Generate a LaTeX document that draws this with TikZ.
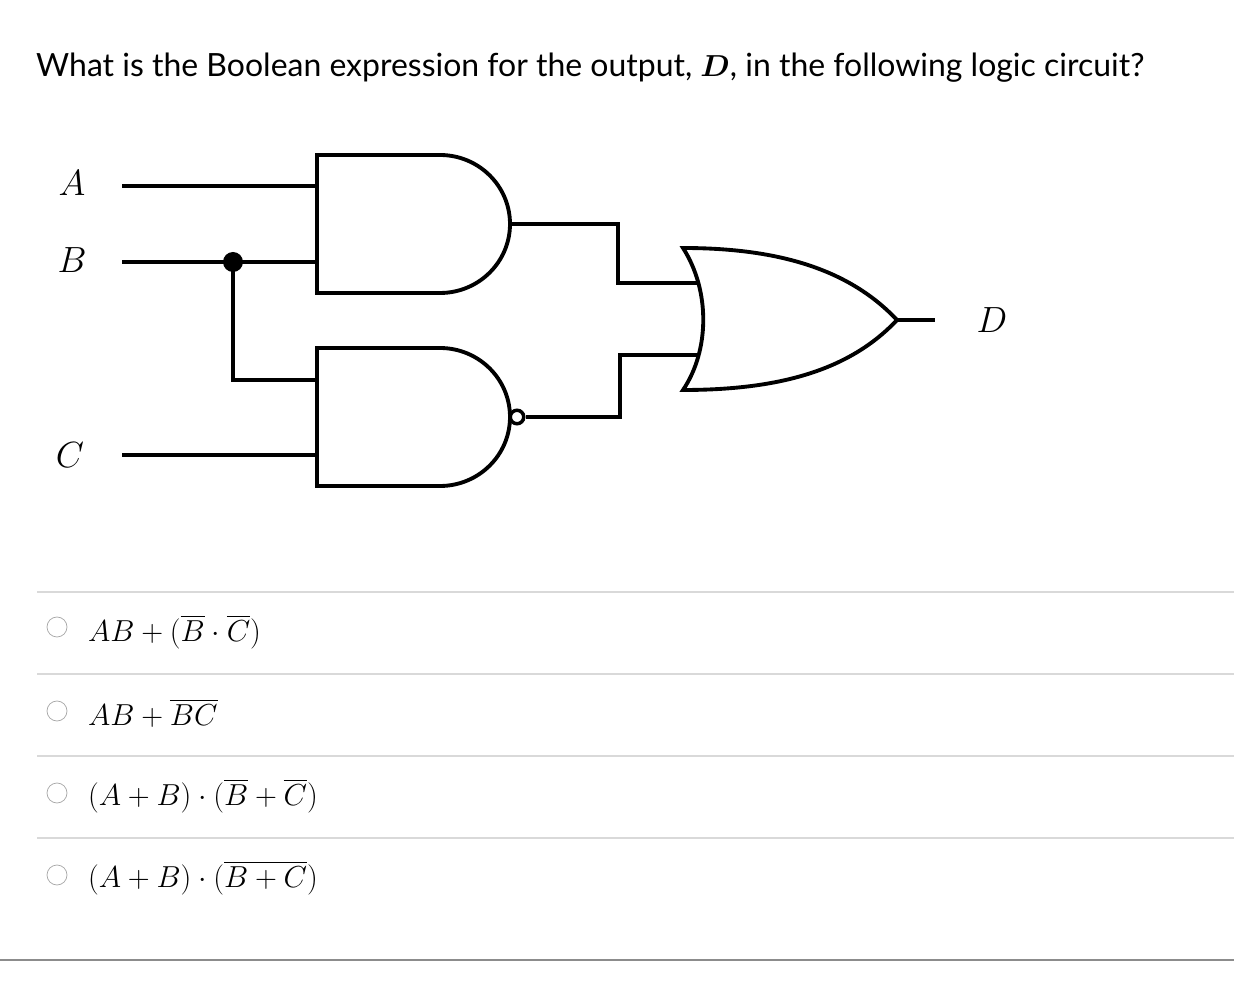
\documentclass[tikz,border=0pt]{standalone}
\usepackage{amsmath}
\usepackage{fontspec}
\newfontfamily\latof{Lato}
\begin{document}
\begin{tikzpicture}[x=0.02cm,y=-0.02cm,
  wire/.style={line width=2.2pt},
  sep/.style={draw=black!15,line width=0.8pt},
  radio/.style={circle,draw=black!35,minimum size=0.4cm,inner sep=0pt},
  opt/.style={anchor=west,font=\fontsize{16}{18}\selectfont},
  lab/.style={font=\fontsize{20}{22}\selectfont}]
\useasboundingbox (0,0) rectangle (1234,982);
\node[anchor=west,font=\latof\fontsize{18.2}{21}\selectfont] (title) at (30,68) {What is the Boolean expression for the output, $\boldsymbol{D}$, in the following logic circuit?};
% labels
\node[lab] (la) at (72,183) {$A$};
\node[lab] (lb) at (72,260) {$B$};
\node[lab] (lc) at (70,455) {$C$};
\node[lab] (ld) at (992,320) {$D$};
% AND gate
\draw[wire] (317,155) -- (440,155) arc[start angle=90,end angle=-90,x radius=70,y radius=-69] -- (317,293) -- cycle;
% NAND gate
\draw[wire] (317,348) -- (440,348) arc[start angle=90,end angle=-90,x radius=70,y radius=-69] -- (317,486) -- cycle;
\node[circle,draw,line width=2pt,minimum size=0.27cm,inner sep=0pt] (bub) at (517,417) {};
% OR gate
\draw[wire] (683,248) .. controls (710,290) and (710,350) .. (683,390)
  .. controls (780,390) and (850,370) .. (897,320)
  .. controls (850,270) and (780,248) .. (683,248) -- cycle;
% wires
\coordinate (bd) at (233,262);
\draw[wire] (122,186) -- (317,186);
\draw[wire] (122,262) -- (317,262);
\draw[wire] (122,455) -- (317,455);
\draw[wire] (bd) -- (233,380) -- (317,380);
\fill (bd) circle[radius=0.2cm];
\draw[wire] (510,224) -- (618,224) -- (618,283) -- (700,283);
\draw[wire] (bub.east) -- (620,417) -- (620,355) -- (700,355);
\draw[wire] (897,320) -- (935,320);
% separators
\foreach \y in {592,674,756,838} \draw[sep] (37,\y) -- (1234,\y);
\draw[draw=black!45,line width=1pt] (0,960) -- (1234,960);
% options
\node[radio] (r1) at (57,627) {};
\node[radio] (r2) at (57,711) {};
\node[radio] (r3) at (57,793) {};
\node[radio] (r4) at (57,875) {};
\node[opt] (o1) at (82,632) {$AB+(\overline{B}\cdot\overline{C})$};
\node[opt] (o2) at (82,713) {$AB+\overline{BC}$};
\node[opt] (o3) at (82,796) {$(A+B)\cdot(\overline{B}+\overline{C})$};
\node[opt] (o4) at (82,878) {$(A+B)\cdot(\overline{B+C})$};
\end{tikzpicture}
\end{document}
